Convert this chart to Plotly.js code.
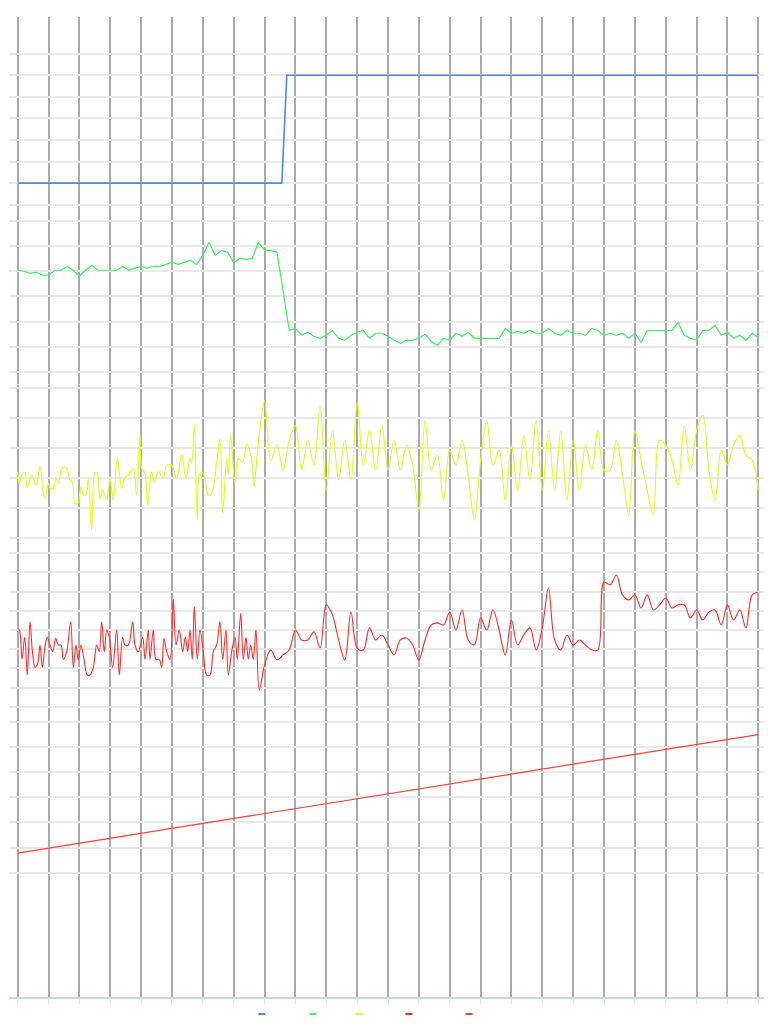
<!DOCTYPE html>
<html><head><meta charset="utf-8">
<script src="https://cdn.plot.ly/plotly-3.0.1.min.js"></script>
<style>html,body{margin:0;padding:0;background:#fff;} #chart{width:768px;height:1024px;}</style>
</head><body><div id="chart"></div>
<script>
// ---- data (x in sample index units, y in grid units of each lane) ----
const blueX = [0, 85.6, 87.2, 240];
const blueY = [0, 0, 5, 5];
const sampleStep = 2;
const greenY = [
 4.04,4.00,3.92,3.96,3.84,3.84,4.04,4.04,4.19,4.04,
 3.80,4.04,4.23,4.04,4.04,4.04,4.04,4.19,4.04,4.12,
 4.19,4.12,4.19,4.19,4.27,4.35,4.27,4.35,4.43,4.27,
 4.63,5.15,4.63,4.83,4.75,4.35,4.51,4.47,4.51,5.15,
 4.83,4.83,4.75,3.24,1.65,1.73,1.46,1.58,1.42,1.34,
 1.46,1.65,1.34,1.26,1.46,1.58,1.65,1.34,1.54,1.54,
 1.42,1.26,1.14,1.26,1.26,1.34,1.50,1.22,1.06,1.34,
 1.26,1.54,1.42,1.58,1.34,1.34,1.34,1.34,1.34,1.73,
 1.54,1.62,1.54,1.65,1.54,1.54,1.73,1.54,1.46,1.65,
 1.54,1.54,1.46,1.73,1.65,1.46,1.54,1.46,1.54,1.34,
 1.54,1.18,1.65,1.65,1.65,1.65,1.65,1.97,1.46,1.34,
 1.26,1.65,1.65,1.85,1.46,1.58,1.34,1.46,1.26,1.54,1.37
];
// first part of the noisy series, read point by point
const yellowHeadX = [0,0.52,1.62,2.37,3.11,4.54,5.93,7.23,8.30,8.85,9.92,10.47,11.54,12.41,13.16,14.26,15.33,15.88,16.95,17.82,
 18.57,19.44,20.51,21.26,22.13,22.88,23.98,25.05,25.79,26.67,27.54,28.84,29.91,30.98,32.27,33.70,34.77,35.84,37.46,38.56,
 39.63,40.18,41.25,42.13,43.42,44.17,45.56,47.18,48.28,49.90,51.52,53.14,54.54,55.83,56.38,57.23,58.20,59.07,60.14,61.76,
 62.86,64.48,65.55,66.43,67.73,68.24,69.02,70.41,71.48,72.91,74.21,75.83,76.57,77.45,78.29];
const yellowHeadY = [2.20,1.82,2.15,2.17,1.68,2.09,1.76,2.39,1.49,1.32,1.82,1.65,1.65,1.98,1.82,2.31,2.35,2.31,1.93,1.82,
 1.15,1.15,1.70,1.43,1.43,1.95,0.27,2.17,2.15,1.32,1.59,1.26,1.98,1.26,2.64,1.65,2.03,2.09,2.31,1.43,
 3.41,2.31,2.15,1.10,2.20,1.87,2.20,2.01,2.42,2.42,1.98,2.75,1.98,2.64,2.48,3.80,0.60,2.15,2.15,1.43,
 1.49,2.53,3.30,0.82,2.64,2.09,3.41,1.82,2.64,2.53,3.12,2.59,1.70,2.59,3.47];
const redHeadX = [0,0.52,1.39,2.27,3.11,3.99,4.73,5.61,6.48,7.23,7.97,8.85,9.59,10.47,11.34,12.31,13.16,14.03,14.78,15.88,
 17.17,18.02,18.89,19.64,20.51,21.48,22.55,23.43,24.50,25.60,26.44,27.22,28.06,28.84,29.68,30.78,32.08,32.92,34.02,34.77,
 35.84,37.27,38.01,39.08,40.51,41.25,42.32,42.87,43.94,44.82,45.88,46.66,47.41,48.28,49.35,50.42,51.30,52.37,53.47,54.31,
 55.09,55.83,56.58,57.23,58.20,59.07,60.14,61.24,62.31,63.38,64.48,65.55,66.43,67.50,68.24,69.35,70.41,71.16,72.26,73.10,
 73.98,74.72,75.50,76.35,77.22,78.29];
const redHeadY = [4.00,4.00,2.47,3.62,1.65,4.43,2.96,2.05,2.26,3.22,2.05,3.13,3.62,3.22,2.87,3.57,3.22,3.22,2.47,2.87,
 4.43,2.05,3.22,2.44,3.22,2.47,1.65,1.65,2.05,3.22,2.87,4.43,2.87,4.00,3.62,2.05,4.00,1.65,3.62,3.22,
 3.22,4.43,3.22,2.87,3.62,2.47,4.00,2.47,4.00,2.47,2.47,2.05,3.57,2.87,2.47,5.60,3.22,4.00,2.87,3.62,
 2.87,4.00,2.47,5.22,2.47,4.00,2.87,1.65,1.65,2.87,3.22,4.43,2.47,4.00,1.65,2.87,3.62,2.47,4.87,2.47,
 3.62,2.47,3.22,2.47,4.00,0.87];
// remaining part, sampled every 2 index units
const tailX = [80,82,84,86,88,90,92,94,96,98,100,102,104,106,108,110,112,114,116,118,120,122,124,126,128,130,132,134,136,138,
 140,142,144,146,148,150,152,154,156,158,160,162,164,166,168,170,172,174,176,178,180,182,184,186,188,190,192,194,196,198,
 200,202,204,206,208,210,212,214,216,218,220,222,224,226,228,230,232,234,236,238,240];
const yellowTailY = [
 4.56,2.58,3.08,2.26,3.25,3.74,2.26,3.25,2.42,4.41,
 1.59,3.58,1.93,3.25,1.93,4.51,2.42,3.58,2.26,3.74,
 2.26,3.25,2.26,3.08,2.42,0.87,3.91,2.26,2.75,1.26,
 2.92,2.42,3.25,2.09,0.60,2.59,3.91,2.42,2.92,1.26,
 3.08,1.59,3.41,1.93,3.91,1.59,3.58,1.59,3.58,1.26,
 3.25,1.59,3.08,2.26,3.58,2.26,2.26,3.25,2.09,0.77,
 3.58,2.59,1.59,0.77,3.25,3.08,2.59,1.76,3.74,2.26,
 3.58,4.08,2.26,1.26,2.92,2.42,3.08,3.41,2.75,2.59,1.59
];
const redTailY = [
 2.18,2.96,2.44,2.70,2.96,4.00,3.48,3.48,3.90,3.06,
 5.31,4.78,3.48,2.44,4.94,3.06,2.96,4.11,3.48,3.74,
 3.22,2.70,3.48,3.58,3.22,2.44,3.48,4.26,4.37,4.26,
 4.94,4.00,5.04,3.48,3.22,4.63,4.00,5.04,4.00,2.70,
 4.52,3.22,3.74,4.11,2.96,4.11,6.19,3.48,2.96,3.74,
 3.22,3.48,3.22,2.96,2.96,6.50,6.35,6.87,5.83,5.57,
 5.83,5.15,5.83,5.04,5.31,5.67,5.15,5.31,5.31,4.63,
 5.04,4.52,4.94,5.04,4.26,5.31,4.52,5.04,4.11,5.83,5.98
];
const rampX = [0, 40, 80, 120, 160, 200, 240];
const rampY = [0.78, 1.57, 2.35, 3.14, 3.92, 4.71, 5.49];
const seriesNames = ['', '', '', '', ''];

// ---- styles ----
const colors = ['#4f86ee', '#3cf060', '#dcff28', '#ff2a2a', '#ff3c3c'];
const hGrid = '#e9e9e9';

const traces = [
  {x: blueX, y: blueY, yaxis: 'y2', mode: 'lines', line: {color: colors[0], width: 1.6}, showlegend: false, hoverinfo: 'skip'},
  {y: greenY, x0: 0, dx: sampleStep, yaxis: 'y3', mode: 'lines', line: {color: colors[1], width: 1.2}, showlegend: false, hoverinfo: 'skip'},
  {x: yellowHeadX.concat(tailX), y: yellowHeadY.concat(yellowTailY), yaxis: 'y4', mode: 'lines',
    line: {color: colors[2], width: 1.2, shape: 'spline', smoothing: 1}, showlegend: false, hoverinfo: 'skip'},
  {x: redHeadX.concat(tailX), y: redHeadY.concat(redTailY), yaxis: 'y5', mode: 'lines',
    line: {color: colors[3], width: 1.1, shape: 'spline', smoothing: 1}, showlegend: false, hoverinfo: 'skip'},
  {x: rampX, y: rampY, yaxis: 'y6', mode: 'lines', line: {color: colors[4], width: 1.2}, showlegend: false, hoverinfo: 'skip'}
];
const legendIds = ['legend', 'legend2', 'legend3', 'legend4', 'legend5'];
seriesNames.forEach(function (nm, i) {
  traces.push({x: [null], y: [null], yaxis: 'y', mode: 'markers', name: nm, legend: legendIds[i],
    marker: {symbol: 'line-ew', size: 5, color: colors[i], line: {color: colors[i], width: 2}}, hoverinfo: 'skip'});
});

function laneAxis(dom, rng) {
  return {domain: dom, range: rng, anchor: 'x', tick0: 0, dtick: 1, showgrid: true, gridcolor: hGrid, gridwidth: 2,
    zeroline: false, showticklabels: false, ticks: '', showline: false, fixedrange: true};
}
function legendAt(px) {
  return {xref: 'container', yref: 'container', x: (px - 20) / 768, xanchor: 'left', y: 10 / 1024, yanchor: 'middle',
    bgcolor: 'rgba(0,0,0,0)', borderwidth: 0, orientation: 'h', font: {size: 8, color: '#444'}};
}

const layout = {
  width: 768, height: 1024,
  margin: {l: 9, r: 4, t: 17, b: 27, pad: 0},
  paper_bgcolor: '#ffffff', plot_bgcolor: '#ffffff',
  showlegend: true,
  xaxis: {range: [-2.82, 241.85], tick0: 0, dtick: 10, showgrid: true, gridcolor: '#aaaaaa', gridwidth: 2,
    showticklabels: false, ticks: 'outside', ticklen: 5, tickcolor: '#e2e2e2', tickwidth: 1,
    showline: true, linecolor: '#c8d6f2', linewidth: 1.5, zeroline: false, anchor: 'y', fixedrange: true},
  yaxis: {domain: [0, 1], range: [0, 1], showgrid: false, zeroline: false, showticklabels: false, ticks: '', showline: false, fixedrange: true},
  yaxis2: laneAxis([0.80622, 0.96480], [-1.1, 6.1]),
  yaxis3: laneAxis([0.63510, 0.79459], [-0.1, 6.1]),
  yaxis4: laneAxis([0.46510, 0.62500], [-0.1, 5.1]),
  yaxis5: laneAxis([0.29429, 0.45469], [-0.1, 8.1]),
  yaxis6: laneAxis([0.12429, 0.28347], [-0.1, 6.1]),
  legend: legendAt(262), legend2: legendAt(313), legend3: legendAt(359), legend4: legendAt(409), legend5: legendAt(469)
};

Plotly.newPlot('chart', traces, layout, {displayModeBar: false, staticPlot: true});
</script>
</body></html>
